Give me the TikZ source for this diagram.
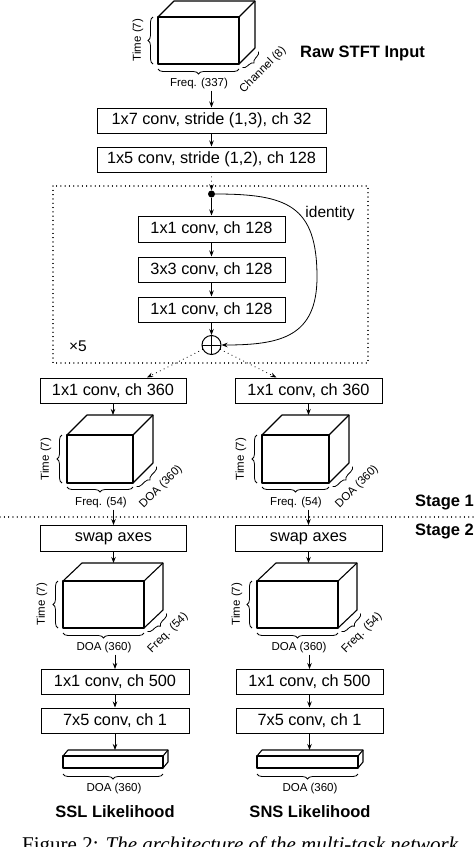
\documentclass[tikz,border=0pt]{standalone}
\usepackage{fontspec}
\setmainfont{Liberation Sans}
\newfontfamily\capfont{Liberation Serif}
\usetikzlibrary{arrows.meta,decorations.pathreplacing}

\newcommand{\lyrfont}{\fontsize{16.3}{19}\selectfont}
\newcommand{\dimfont}{\fontsize{11.5}{13}\selectfont}
\newcommand{\hdfont}{\fontsize{16.5}{19}\selectfont\bfseries}

% tensor box: front top-left, front bottom-right, depth shift
\newcommand{\drawcube}[6]{%
  \draw[tensorline] (#1,#2) rectangle (#3,#4);
  \draw[tensorline] (#1,#2) -- ++(#5,#6) -- ([shift={(#5,#6)}]#3,#2) -- ([shift={(#5,#6)}]#3,#4) -- (#3,#4);
  \draw[tensorline] (#3,#2) -- ++(#5,#6);
}

\begin{document}
\begin{tikzpicture}[
    x=1pt, y=-1pt,
    layer/.style={draw, line width=1pt, minimum height=25pt, inner sep=0pt, font=\lyrfont},
    dim/.style={font=\dimfont, inner sep=1pt},
    heading/.style={font=\hdfont, inner sep=0pt},
    tensorline/.style={line width=1.1pt, line join=round},
    brace/.style={decorate, decoration={brace, amplitude=5pt}, line width=0.8pt},
    arr/.style={-{Stealth[length=6pt, width=4.5pt]}, line width=0.8pt},
    dots/.style={line width=1.1pt, dash pattern=on 0.1pt off 4.2pt, line cap=round},
    addop/.style={circle, draw, line width=1pt, minimum size=19pt, inner sep=0pt,
        path picture={\draw[line width=0.8pt] (path picture bounding box.north) -- (path picture bounding box.south)
            (path picture bounding box.west) -- (path picture bounding box.east);}}
]
\useasboundingbox (0,0) rectangle (474,847);

% Raw input tensor
\drawcube{158}{17}{239}{64}{16}{-16}
\draw[brace] (153,64) -- (153,17);
\draw[brace] (239,69) -- (158,69);
\draw[brace] (258.5,51.5) -- (242.5,67.5);
\node[dim, rotate=90] (time1) at (138,40) {Time (7)};
\node[dim] (freq1) at (199,84) {Freq. (337)};
\node[dim, rotate=45] (chan1) at (263,70) {Channel (8)};
\node[heading, anchor=west] (stft) at (300,53) {Raw STFT Input};

% Stem convolutions
\node[layer, minimum width=229pt] (conva) at (211.5,120.5) {1x7 conv, stride (1,3), ch 32};
\node[layer, minimum width=229pt] (convb) at (211.5,159.5) {1x5 conv, stride (1,2), ch 128};
\draw[arr] (freq1.south -| conva) -- (conva);
\draw[arr] (conva) -- (convb);

% Residual block
\draw[dots] (53,186) rectangle (368,363);
\node[circle, fill, inner sep=0pt, minimum size=7pt] (split) at (211.5,194) {};
\node[layer, minimum width=147pt, minimum height=26pt] (res1) at (211.5,229) {1x1 conv, ch 128};
\node[layer, minimum width=147pt] (res2) at (211.5,269.5) {3x3 conv, ch 128};
\node[layer, minimum width=147pt] (res3) at (211.5,309.5) {1x1 conv, ch 128};
\node[addop] (add) at (211.5,345) {};
\coordinate (bend) at (317,277);
\draw[arr, dots] (convb) -- (split);
\draw[arr] (split) -- (res1);
\draw[arr] (res1) -- (res2);
\draw[arr] (res2) -- (res3);
\draw[arr] (res3) -- (add);
\draw[arr] (split) to[out=0, in=90, looseness=1.4] (bend) to[out=-90, in=0, looseness=1.3] (add);
\node[font=\fontsize{15.5}{18}\selectfont] (identity) at (330,213) {identity};
\node[font=\fontsize{15.5}{18}\selectfont] (times5) at (78,346) {×5};

% Stage 1 heads
\node[layer, minimum width=146pt] (convhL) at (113,390.5) {1x1 conv, ch 360};
\node[layer, minimum width=147pt] (convhR) at (308.5,390.5) {1x1 conv, ch 360};
\draw[arr, dots] (add) -- ([xshift=34pt]convhL.north);
\draw[arr, dots] (add) -- ([xshift=-32pt]convhR.north);

\drawcube{67}{435}{133}{483}{20}{-20}
\drawcube{262}{435}{329}{483}{20}{-20}
\coordinate (topL2) at (113,415);
\coordinate (topR2) at (308.5,415);
\draw[arr] (convhL) -- (topL2);
\draw[arr] (convhR) -- (topR2);
\draw[brace] (62,483) -- (62,435);
\draw[brace] (133,487) -- (67,487);
\draw[brace] (156.5,466.5) -- (136.5,486.5);
\draw[brace] (257,483) -- (257,435);
\draw[brace] (329,487) -- (262,487);
\draw[brace] (352.5,466.5) -- (332.5,486.5);
\node[dim, rotate=90] (time2L) at (46,459) {Time (7)};
\node[dim] (freq2L) at (101,503) {Freq. (54)};
\node[dim, rotate=45] (doa2L) at (161,487) {DOA (360)};
\node[dim, rotate=90] (time2R) at (241,459) {Time (7)};
\node[dim] (freq2R) at (296,503) {Freq. (54)};
\node[dim, rotate=45] (doa2R) at (357,487) {DOA (360)};

% Stage divider
\draw[dots] (0,517) -- (474,517);
\node[heading, anchor=west] (stage1) at (415,502) {Stage 1};
\node[heading, anchor=west] (stage2) at (415,531) {Stage 2};

% Stage 2 heads
\node[layer, minimum width=146pt, minimum height=26pt] (swapL) at (113.5,538.5) {swap axes};
\node[layer, minimum width=147pt, minimum height=26pt] (swapR) at (308.5,538.5) {swap axes};
\draw[arr] (freq2L.south -| swapL) -- (swapL);
\draw[arr] (freq2R.south -| swapR) -- (swapR);

\drawcube{63}{581}{144}{628}{19}{-18}
\drawcube{257}{581}{338}{628}{19}{-18}
\coordinate (topL3) at (113.5,563);
\coordinate (topR3) at (308.5,563);
\draw[arr] (swapL) -- (topL3);
\draw[arr] (swapR) -- (topR3);
\draw[brace] (58,628) -- (58,581);
\draw[brace] (144,633) -- (63,633);
\draw[brace] (166.5,613.5) -- (147.5,631.5);
\draw[brace] (252,628) -- (252,581);
\draw[brace] (338,633) -- (257,633);
\draw[brace] (360.5,613.5) -- (341.5,631.5);
\node[dim, rotate=90] (time3L) at (42,604) {Time (7)};
\node[dim] (doa3L) at (104,648) {DOA (360)};
\node[dim, rotate=45] (freq3L) at (168,633) {Freq. (54)};
\node[dim, rotate=90] (time3R) at (237,604) {Time (7)};
\node[dim] (doa3R) at (299,648) {DOA (360)};
\node[dim, rotate=45] (freq3R) at (362,633) {Freq. (54)};

\node[layer, minimum width=148pt] (convmL) at (115,682) {1x1 conv, ch 500};
\node[layer, minimum width=147pt] (convmR) at (309.5,682) {1x1 conv, ch 500};
\node[layer, minimum width=148pt] (convoL) at (115,720.5) {7x5 conv, ch 1};
\node[layer, minimum width=147pt] (convoR) at (309.5,720.5) {7x5 conv, ch 1};
\draw[arr] (doa3L.south -| convmL) -- (convmL);
\draw[arr] (doa3R.south -| convmR) -- (convmR);
\draw[arr] (convmL) -- (convoL);
\draw[arr] (convmR) -- (convoR);

% Output likelihoods
\drawcube{63}{756}{163}{768}{5}{-6}
\drawcube{257}{756}{358}{768}{5}{-6}
\coordinate (topL4) at (115,750);
\coordinate (topR4) at (309.5,750);
\draw[arr] (convoL) -- (topL4);
\draw[arr] (convoR) -- (topR4);
\draw[brace] (163,774) -- (63,774);
\draw[brace] (358,774) -- (257,774);
\node[dim] (doa4L) at (114,789) {DOA (360)};
\node[dim] (doa4R) at (310,789) {DOA (360)};
\node[heading] (sslL) at (115,812) {SSL Likelihood};
\node[heading] (snsR) at (310,812) {SNS Likelihood};

% Caption (cut by the page edge)
\node[anchor=base west, inner sep=0pt, font=\capfont\fontsize{21}{24}\selectfont] (caption) at (22,851)
    {Figure 2: \textit{The architecture of the multi-task network}};
\end{tikzpicture}
\end{document}
